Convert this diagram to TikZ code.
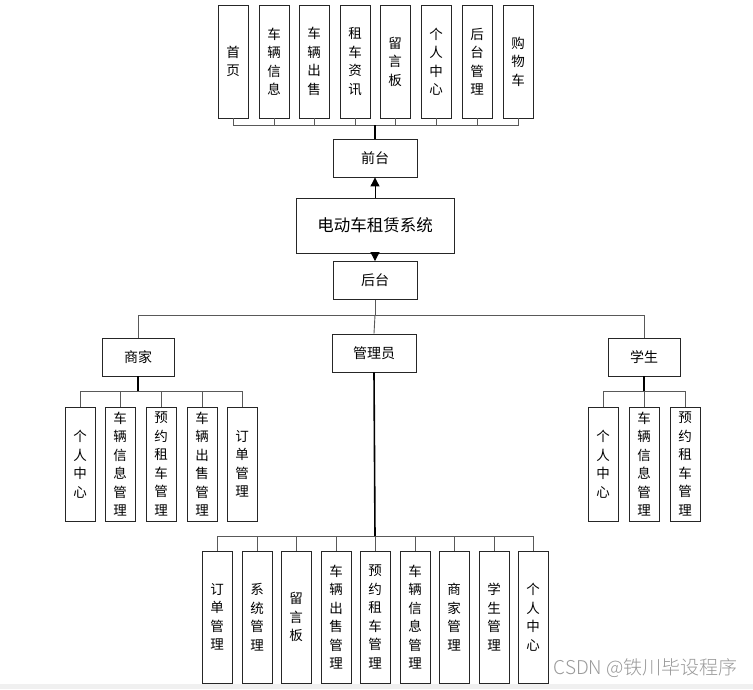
\documentclass[tikz,border=0pt]{standalone}
\usepackage{fontspec}
\setmainfont{Noto Sans CJK SC}
\newfontfamily\wmfont{Noto Sans CJK SC Light}
\usetikzlibrary{arrows.meta}
\begin{document}
\begin{tikzpicture}[x=1pt,y=-1pt,
  vbox/.style={draw=black!85, line width=0.8pt, fill=white, minimum width=30, inner sep=0pt, align=center, font=\fontsize{13.5}{18.5}\selectfont},
  hbox/.style={draw=black!85, line width=0.8pt, fill=white, minimum width=84, minimum height=38, inner sep=0pt, font=\fontsize{14}{16}\selectfont},
  conn/.style={draw=black!65, line width=0.9pt},
  trunk/.style={draw=black, line width=1.6pt}]
\useasboundingbox (0,0) rectangle (753,689);
\fill[black!6] (0,684) rectangle (753,689);
% top row
\node[vbox, minimum height=113] (t1) at (233,61.5) {首\\页};
\node[vbox, minimum height=113] (t2) at (274,61.5) {车\\辆\\信\\息};
\node[vbox, minimum height=113] (t3) at (314,61.5) {车\\辆\\出\\售};
\node[vbox, minimum height=113] (t4) at (355,61.5) {租\\车\\资\\讯};
\node[vbox, minimum height=113] (t5) at (395,61.5) {留\\言\\板};
\node[vbox, minimum height=113] (t6) at (436,61.5) {个\\人\\中\\心};
\node[vbox, minimum height=113] (t7) at (477,61.5) {后\\台\\管\\理};
\node[vbox, minimum height=113] (t8) at (518,61.5) {购\\物\\车};
\coordinate (busT) at (375,125);
\node[hbox] (qiantai) at (375,158) {前台};
\node[hbox, minimum width=158, minimum height=55, font=\fontsize{16.5}{18}\selectfont] (sys) at (375,225.5) {电动车租赁系统};
\node[hbox] (houtai) at (375,280.5) {后台};
\coordinate (busM) at (375,315);
\node[hbox, minimum width=72] (shangjia) at (138,357) {商家};
\node[hbox] (admin) at (374,353) {管理员};
\node[hbox, minimum width=72] (xuesheng) at (644,357) {学生};
% merchant children
\coordinate (busS) at (138,391);
\node[vbox, minimum height=114] (s1) at (80,464) {个\\人\\中\\心};
\node[vbox, minimum height=114] (s2) at (120,464) {车\\辆\\信\\息\\管\\理};
\node[vbox, minimum height=114] (s3) at (161,464) {预\\约\\租\\车\\管\\理};
\node[vbox, minimum height=114] (s4) at (202,464) {车\\辆\\出\\售\\管\\理};
\node[vbox, minimum height=114] (s5) at (242,464) {订\\单\\管\\理};
% student children
\coordinate (busX) at (644,391);
\node[vbox, minimum height=114] (x1) at (603,464) {个\\人\\中\\心};
\node[vbox, minimum height=114] (x2) at (644,464) {车\\辆\\信\\息\\管\\理};
\node[vbox, minimum height=114] (x3) at (685,464) {预\\约\\租\\车\\管\\理};
% admin children
\coordinate (busA) at (375,536);
\node[vbox, minimum height=132] (a1) at (217,617) {订\\单\\管\\理};
\node[vbox, minimum height=132] (a2) at (257,617) {系\\统\\管\\理};
\node[vbox, minimum height=132] (a3) at (296,617) {留\\言\\板};
\node[vbox, minimum height=132] (a4) at (336,617) {车\\辆\\出\\售\\管\\理};
\node[vbox, minimum height=132] (a5) at (375,617) {预\\约\\租\\车\\管\\理};
\node[vbox, minimum height=132] (a6) at (415,617) {车\\辆\\信\\息\\管\\理};
\node[vbox, minimum height=132] (a7) at (454,617) {商\\家\\管\\理};
\node[vbox, minimum height=132] (a8) at (494,617) {学\\生\\管\\理};
\node[vbox, minimum height=132] (a9) at (533,617) {个\\人\\中\\心};
% connectors
\foreach \n in {t1,t2,t3,t4,t5,t6,t7,t8} \draw[conn] (\n.south) |- (busT);
\draw[trunk] (busT) -- (qiantai.north);
\draw[line width=0.9pt, -{Triangle[length=9pt,width=9pt]}] (sys.north) -- (qiantai.south);
\draw[line width=0.9pt, -{Triangle[length=9pt,width=9pt]}] (sys.south) -- (houtai.north);
\draw[conn] (houtai.south) -- (busM);
\draw[conn] (busM) -| (shangjia.north);
\draw[conn] (busM) -| (xuesheng.north);
\draw[conn] (busM) -- (admin.north);
\foreach \n in {s1,s2,s3,s4,s5} \draw[conn] (\n.north) |- (busS);
\draw[trunk] (shangjia.south) -- (busS);
\foreach \n in {x1,x2,x3} \draw[conn] (\n.north) |- (busX);
\draw[trunk] (xuesheng.south) -- (busX);
\foreach \n in {a1,a2,a3,a4,a5,a6,a7,a8,a9} \draw[conn] (\n.north) |- (busA);
\draw[trunk] (admin.south) -- (busA);
% watermark
\node[text=black!40, font=\wmfont\fontsize{19}{21}\selectfont, anchor=east, inner sep=0pt] (wm) at (738,668) {CSDN @铁川毕设程序};
\end{tikzpicture}
\end{document}
